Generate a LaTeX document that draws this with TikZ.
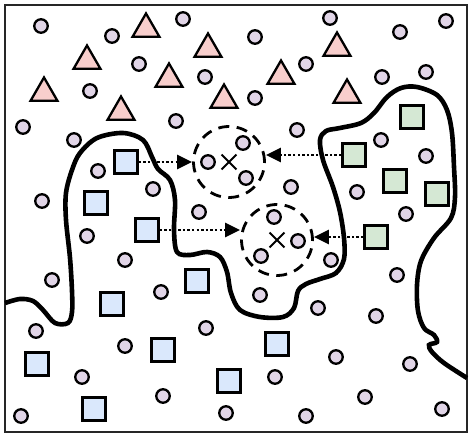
\documentclass[tikz,border=0pt]{standalone}
\usepackage{tikz}
\usetikzlibrary{arrows.meta,shapes.geometric,shapes.misc}
\definecolor{triFill}{HTML}{F8CECC}
\definecolor{blueFill}{HTML}{DAE8FC}
\definecolor{greenFill}{HTML}{D5E8D4}
\definecolor{dotFill}{HTML}{E1D5E7}
\newcommand{\myBoundary}{%%
  %% Draw the boundary between the two halves.
  \draw[curveStyle] plot[smooth,tension=0.55] coordinates {
    (5,303) (20,299) (33,301) (43,310) (55,323) (68,323) (72,312)
    (72,291) (70,258) (66,220) (66,193) (72,170) (80,153) (97,138)
    (123,133) (143,140) (152,157) (158,169) (170,180) (175,200)
    (174,230) (177,252) (190,255) (207,252) (220,257) (227,272)
    (231,293) (240,310) (260,317) (283,317) (294,308) (298,291)
    (306,284) (320,279) (336,273) (344,259) (344,238) (340,212)
    (333,187) (323,160) (320,140) (326,131) (340,128) (361,123)
    (374,113) (387,97) (401,88) (417,87) (437,95) (447,110)
    (452,133) (454,167) (455,197) (451,218) (434,238) (421,261)
    (417,285) (418,311) (424,328) (434,335) (437,342) (429,345)
    (432,352) (444,363) (467,378)};
}
\newcommand{\myTarget}[3]{%%
  %% Dashed neighbourhood with its centre marked.
  \node[zoneStyle] (#1) at (#2,#3) {};
  \node[crossStyle] (#1x) at (#2,#3) {};
}

\begin{document}
\begin{tikzpicture}[x=1pt,y=-1pt,%%
  frameStyle/.style={line width=2pt,black!85},%%
  curveStyle/.style={line width=4.6pt,black},%%
  dotStyle/.style={draw,circle,fill=dotFill,line width=2.3pt,inner sep=0pt,minimum size=13.5pt},%%
  triStyle/.style={draw,regular polygon,regular polygon sides=3,fill=triFill,line width=2.3pt,inner sep=0pt,minimum size=31pt,yshift=-4pt},%%
  blueStyle/.style={draw,rectangle,fill=blueFill,line width=2.4pt,inner sep=0pt,minimum size=23pt},%%
  greenStyle/.style={draw,rectangle,fill=greenFill,line width=2.4pt,inner sep=0pt,minimum size=23pt},%%
  zoneStyle/.style={draw,circle,line width=2.8pt,dash pattern=on 11pt off 7.5pt,inner sep=0pt,minimum size=71pt},%%
  crossStyle/.style={draw,cross out,line width=1.8pt,inner sep=0pt,minimum size=13pt},%%
  arrowStyle/.style={line width=2.6pt,dash pattern=on 2.4pt off 2.2pt,-{Triangle[length=15pt,width=14pt]}}
]
\useasboundingbox (0,0) rectangle (474,438);
%%
%% Outer frame.
\draw[frameStyle] (5,5) rectangle (467,432);
\myBoundary
%%
%% Unlabelled points.
\foreach [count=\i] \x/\y in {41/26,112/36,183/19,139/64,205/77,90/91,23/127,
  176/121,74/140,98/171,153/189,42/201,199/212,208/162,330/18,446/21,255/37,
  400/32,306/64,382/77,426/72,255/98,297/130,381/140,426/156,243/143,246/178,
  291/187,357/192,406/214,274/217,87/236,125/260,52/280,161/292,36/331,
  206/328,125/346,82/377,163/396,21/416,226/413,298/241,261/256,331/260,
  397/275,260/295,318/308,376/316,336/357,410/364,275/377,365/397,306/416,
  442/409}
  \node[dotStyle] (dot\i) at (\x,\y) {};
%%
%% Triangles.
\foreach [count=\i] \x/\y in {146/25,87/57,208/45,169/75,44/89,224/96,121/108,
  337/44,281/72,347/91}
  \node[triStyle] (tri\i) at (\x,\y) {};
%%
%% Blue and green squares.
\foreach [count=\i] \x/\y in {126/162,96/203,147/230,197/281,112/304,163/350,
  37/364,94/409,229/381,277/344}
  \node[blueStyle] (blue\i) at (\x,\y) {};
\foreach [count=\i] \x/\y in {412/117,354/155,395/181,437/194,376/237}
  \node[greenStyle] (green\i) at (\x,\y) {};
%%
%% The two query points.
\myTarget{zoneA}{229}{162}
\myTarget{zoneB}{277}{240}
%%
%% Nearest squares point to them.
\draw[arrowStyle] (blue1.east) -- (blue1.east -| zoneA.west);
\draw[arrowStyle] (green2.west) -- (green2.west -| zoneA.east);
\draw[arrowStyle] (blue3.east) -- (blue3.east -| zoneB.west);
\draw[arrowStyle] (green5.west) -- (green5.west -| zoneB.east);

\end{tikzpicture}
\end{document}
